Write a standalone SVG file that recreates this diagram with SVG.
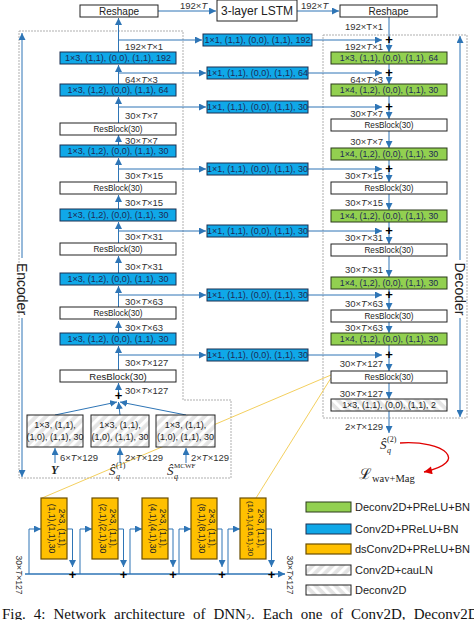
<svg xmlns="http://www.w3.org/2000/svg" width="474" height="620" viewBox="0 0 474 620">
<defs>
<style>
.bl{fill:#10A8E8;stroke:#1a2e50;stroke-width:1}
.gr{fill:#92D050;stroke:#2b3a1a;stroke-width:1}
.rb{fill:#fff;stroke:#222;stroke-width:1}
.or{fill:#FFC000;stroke:#6b4e00;stroke-width:1.2}
.hA{fill:url(#hatA);stroke:#222;stroke-width:1}
.hB{fill:url(#hatB);stroke:#222;stroke-width:1}
.t{font-family:"Liberation Sans",Arial,sans-serif;font-size:9px;fill:#1d2b55;text-anchor:middle}
.tk{font-family:"Liberation Sans",Arial,sans-serif;font-size:8.2px;fill:#222;text-anchor:middle}
.lab{font-family:"Liberation Sans",Arial,sans-serif;font-size:9.5px;fill:#333}
.end{text-anchor:end}
.it{font-style:italic}
.cn{stroke:#2E75B6;stroke-width:1;fill:none}
.cnA{stroke:#2E75B6;stroke-width:1;fill:none;marker-end:url(#ah)}
.plus{font-family:"Liberation Sans",Arial,sans-serif;font-size:13px;font-weight:bold;fill:#000;text-anchor:middle}
.frame{fill:none;stroke:#a6a6a6;stroke-width:0.9;stroke-dasharray:2 1}
.yl{stroke:#F2C94C;stroke-width:0.9;fill:none}
.leg{font-family:"Liberation Sans",Arial,sans-serif;font-size:11px;fill:#222}
.ds{font-family:"Liberation Sans",Arial,sans-serif;font-size:8.6px;fill:#222;text-anchor:middle}
.sym{font-family:"Liberation Serif","Times New Roman",serif;fill:#222}
</style>
<marker id="ah" viewBox="0 0 10 10" refX="10" refY="5" markerWidth="7" markerHeight="7" markerUnits="userSpaceOnUse" orient="auto"><path d="M0,0 L10,5 L0,10 z" fill="#2E75B6"/></marker>
<marker id="ahr" viewBox="0 0 10 10" refX="10" refY="5" markerWidth="9" markerHeight="8" markerUnits="userSpaceOnUse" orient="auto"><path d="M0,0 L10,5 L0,10 z" fill="#e00000"/></marker>
<pattern id="hatA" patternUnits="userSpaceOnUse" width="7" height="7" patternTransform="rotate(45)"><rect width="7" height="7" fill="#e4e4e4"/><rect width="3.2" height="7" fill="#fff"/></pattern>
<pattern id="hatB" patternUnits="userSpaceOnUse" width="7" height="7" patternTransform="rotate(-45)"><rect width="7" height="7" fill="#e4e4e4"/><rect width="3.2" height="7" fill="#fff"/></pattern>
</defs>
<rect width="474" height="620" fill="#fff"/>

<g id="frames">
<path class="frame" d="M19,31 H183 V400 H231 V478 H19 Z"/>
<path class="frame" d="M323,35 H467 V418 H323 Z"/>
</g>

<g id="connectors">
<line class="cnA" x1="158" y1="11" x2="216" y2="11"/>
<line class="cnA" x1="297" y1="11" x2="339" y2="11"/>
<line class="cnA" x1="118.5" y1="52" x2="118.5" y2="18"/>
<line class="cnA" x1="118.5" y1="84" x2="118.5" y2="65"/>
<line class="cnA" x1="118.5" y1="123" x2="118.5" y2="97"/>
<line class="cnA" x1="118.5" y1="145" x2="118.5" y2="135"/>
<line class="cnA" x1="118.5" y1="182" x2="118.5" y2="158"/>
<line class="cnA" x1="118.5" y1="209" x2="118.5" y2="195"/>
<line class="cnA" x1="118.5" y1="243" x2="118.5" y2="222"/>
<line class="cnA" x1="118.5" y1="273" x2="118.5" y2="256"/>
<line class="cnA" x1="118.5" y1="307" x2="118.5" y2="286"/>
<line class="cnA" x1="118.5" y1="333" x2="118.5" y2="321"/>
<line class="cnA" x1="118.5" y1="370" x2="118.5" y2="346"/>
<line class="cnA" x1="118.5" y1="393" x2="118.5" y2="383"/>
<line class="cnA" x1="55" y1="415" x2="117" y2="402"/>
<line class="cnA" x1="120" y1="415" x2="118.5" y2="402"/>
<line class="cnA" x1="186" y1="415" x2="120" y2="402"/>
<line class="cnA" x1="55" y1="463" x2="55" y2="448"/>
<line class="cnA" x1="120" y1="463" x2="120" y2="448"/>
<line class="cnA" x1="186" y1="463" x2="186" y2="448"/>
<line class="cnA" x1="118.5" y1="40" x2="202" y2="40"/>
<line class="cnA" x1="118.5" y1="73" x2="206" y2="73"/>
<line class="cnA" x1="118.5" y1="107" x2="206" y2="107"/>
<line class="cnA" x1="118.5" y1="169" x2="206" y2="169"/>
<line class="cnA" x1="118.5" y1="231" x2="206" y2="231"/>
<line class="cnA" x1="118.5" y1="295" x2="206" y2="295"/>
<line class="cnA" x1="118.5" y1="355" x2="206" y2="355"/>
<line class="cnA" x1="312" y1="40" x2="382" y2="40"/>
<line class="cnA" x1="308" y1="73" x2="382" y2="73"/>
<line class="cnA" x1="308" y1="107" x2="382" y2="107"/>
<line class="cnA" x1="308" y1="169" x2="382" y2="169"/>
<line class="cnA" x1="308" y1="231" x2="382" y2="231"/>
<line class="cnA" x1="308" y1="295" x2="382" y2="295"/>
<line class="cnA" x1="308" y1="355" x2="382" y2="355"/>
<line class="cnA" x1="389" y1="17" x2="389" y2="52"/>
<line class="cnA" x1="389" y1="64" x2="389" y2="84"/>
<line class="cnA" x1="389" y1="96" x2="389" y2="119"/>
<line class="cnA" x1="389" y1="131" x2="389" y2="148"/>
<line class="cnA" x1="389" y1="160" x2="389" y2="182"/>
<line class="cnA" x1="389" y1="194" x2="389" y2="210"/>
<line class="cnA" x1="389" y1="222" x2="389" y2="244"/>
<line class="cnA" x1="389" y1="256" x2="389" y2="277"/>
<line class="cnA" x1="389" y1="289" x2="389" y2="310"/>
<line class="cnA" x1="389" y1="322" x2="389" y2="333"/>
<line class="cnA" x1="389" y1="345" x2="389" y2="371"/>
<line class="cnA" x1="389" y1="383" x2="389" y2="399"/>
<line class="cnA" x1="389" y1="411" x2="389" y2="433"/>
<line class="cnA" x1="22" y1="258" x2="22" y2="33"/>
<line class="cnA" x1="22" y1="318" x2="22" y2="477"/>
<line class="cnA" x1="460" y1="260" x2="460" y2="36"/>
<line class="cnA" x1="460" y1="318" x2="460" y2="417"/>
<path d="M400,443 C445,440 470,462 424,472" fill="none" stroke="#e00000" stroke-width="1.3" marker-end="url(#ahr)"/>
<line class="yl" x1="331" y1="375" x2="42" y2="498"/>
<line class="yl" x1="331" y1="378" x2="256" y2="498"/>
<line x1="25" y1="574" x2="285" y2="574" stroke="#2E75B6" stroke-width="1.6" marker-end="url(#ah)"/>
<path class="cnA" d="M29,574 V529 H41"/>
<path class="cnA" d="M80,574 V529 H92"/>
<path class="cnA" d="M130,574 V529 H142"/>
<path class="cnA" d="M179,574 V529 H191"/>
<path class="cnA" d="M228,574 V529 H240"/>
<path class="cnA" d="M67,529 H72.5 V567"/>
<path class="cnA" d="M118,529 H123.5 V567"/>
<path class="cnA" d="M168,529 H173 V567"/>
<path class="cnA" d="M217,529 H222 V567"/>
<path class="cnA" d="M266,529 H271.5 V567"/>
</g>

<g id="reshape_in"><rect class="rb" x="80" y="5" width="78" height="12"/><text class="tk" x="119" y="14.5" style="font-size:10px">Reshape</text></g>
<g id="lstm"><rect class="rb" x="217" y="0" width="80" height="21"/><text class="tk" x="257" y="15" style="font-size:12px">3-layer LSTM</text></g>
<g id="reshape_out"><rect class="rb" x="340" y="5" width="97" height="12"/><text class="tk" x="388.5" y="14.5" style="font-size:10px">Reshape</text></g>
<g id="top_labels">
<text class="lab" x="180" y="9">192×<tspan class="it">T</tspan></text>
<text class="lab" x="301" y="9">192×<tspan class="it">T</tspan></text>
</g>

<g id="enc1"><rect class="bl" x="60" y="52" width="116" height="12"/><text class="t" x="118" y="61.2">1×3, (1,1), (0,0), (1,1), 192</text></g>
<g id="enc2"><rect class="bl" x="60" y="84" width="116" height="12"/><text class="t" x="118" y="93.2">1×3, (1,2), (0,0), (1,1), 64</text></g>
<g id="enc3"><rect class="rb" x="60" y="123" width="116" height="12"/><text class="tk" x="118" y="132">ResBlock(30)</text></g>
<g id="enc4"><rect class="bl" x="60" y="145" width="116" height="12"/><text class="t" x="118" y="154.2">1×3, (1,2), (0,0), (1,1), 30</text></g>
<g id="enc5"><rect class="rb" x="60" y="182" width="116" height="12"/><text class="tk" x="118" y="191">ResBlock(30)</text></g>
<g id="enc6"><rect class="bl" x="60" y="209" width="116" height="12"/><text class="t" x="118" y="218.2">1×3, (1,2), (0,0), (1,1), 30</text></g>
<g id="enc7"><rect class="rb" x="60" y="243" width="116" height="12"/><text class="tk" x="118" y="252">ResBlock(30)</text></g>
<g id="enc8"><rect class="bl" x="60" y="273" width="116" height="12"/><text class="t" x="118" y="282.2">1×3, (1,2), (0,0), (1,1), 30</text></g>
<g id="enc9"><rect class="rb" x="60" y="307" width="116" height="12"/><text class="tk" x="118" y="316">ResBlock(30)</text></g>
<g id="enc10"><rect class="bl" x="60" y="333" width="116" height="12"/><text class="t" x="118" y="342.2">1×3, (1,2), (0,0), (1,1), 30</text></g>
<g id="enc11"><rect class="rb" x="60" y="370" width="116" height="12"/><text class="tk" x="118" y="379.6" style="font-size:9.6px">ResBlock(30)</text></g>
<g id="enc_sum"><text class="plus" x="118.5" y="400">+</text></g>
<g id="in1"><rect class="hA" x="27" y="415" width="56" height="32"/><text class="t" x="55" y="428" style="fill:#222">1×3, (1,1),</text><text class="t" x="55" y="440" style="fill:#222">(1,0), (1,1), 30</text></g>
<g id="in2"><rect class="hA" x="91" y="415" width="58" height="32"/><text class="t" x="120" y="428" style="fill:#222">1×3, (1,1),</text><text class="t" x="120" y="440" style="fill:#222">(1,0), (1,1), 30</text></g>
<g id="in3"><rect class="hA" x="156" y="415" width="59" height="32"/><text class="t" x="185.5" y="428" style="fill:#222">1×3, (1,1),</text><text class="t" x="185.5" y="440" style="fill:#222">(1,0), (1,1), 30</text></g>
<g id="enc_labels">
<text class="lab" x="125" y="50.3">192×<tspan class="it">T</tspan>×1</text>
<text class="lab" x="125" y="83.3">64×<tspan class="it">T</tspan>×3</text>
<text class="lab" x="125" y="119.3">30×<tspan class="it">T</tspan>×7</text>
<text class="lab" x="125" y="144.3">30×<tspan class="it">T</tspan>×7</text>
<text class="lab" x="125" y="179.3">30×<tspan class="it">T</tspan>×15</text>
<text class="lab" x="125" y="206.3">30×<tspan class="it">T</tspan>×15</text>
<text class="lab" x="125" y="240.3">30×<tspan class="it">T</tspan>×31</text>
<text class="lab" x="125" y="270.3">30×<tspan class="it">T</tspan>×31</text>
<text class="lab" x="125" y="305.3">30×<tspan class="it">T</tspan>×63</text>
<text class="lab" x="125" y="331.3">30×<tspan class="it">T</tspan>×63</text>
<text class="lab" x="125" y="366.3">30×<tspan class="it">T</tspan>×127</text>
<text class="lab" x="125" y="394.3">30×<tspan class="it">T</tspan>×127</text>
<text class="lab" x="60" y="461">6×<tspan class="it">T</tspan>×129</text>
<text class="lab" x="125" y="461">2×<tspan class="it">T</tspan>×129</text>
<text class="lab" x="191" y="461">2×<tspan class="it">T</tspan>×129</text>
</g>
<g id="inputs">
<text class="sym" x="51" y="474" style="font-size:12px;font-weight:bold;font-style:italic">Y</text>
<text class="sym" x="109" y="475" style="font-size:13px;font-style:italic">Ŝ</text>
<text class="sym" x="116" y="468" style="font-size:8px">(1)</text>
<text class="sym" x="116" y="479" style="font-size:8px;font-style:italic">q</text>
<text class="sym" x="167" y="475" style="font-size:13px;font-style:italic">Ŝ</text>
<text class="sym" x="174" y="468" style="font-size:7px">MCWF</text>
<text class="sym" x="174" y="479" style="font-size:8px;font-style:italic">q</text>
</g>
<g id="encoder_title"><text transform="translate(17,289) rotate(90)" style="font-family:'Liberation Sans',Arial,sans-serif;font-size:14px;fill:#222;text-anchor:middle">Encoder</text></g>

<g id="skip1"><rect class="bl" x="203" y="34" width="109" height="12"/><text class="t" x="257.5" y="43.2">1×1, (1,1), (0,0), (1,1), 192</text></g>
<g id="skip2"><rect class="bl" x="207" y="67" width="101" height="12"/><text class="t" x="257.5" y="76.2">1×1, (1,1), (0,0), (1,1), 64</text></g>
<g id="skip3"><rect class="bl" x="207" y="101" width="101" height="12"/><text class="t" x="257.5" y="110.2">1×1, (1,1), (0,0), (1,1), 30</text></g>
<g id="skip4"><rect class="bl" x="207" y="163" width="101" height="12"/><text class="t" x="257.5" y="172.2">1×1, (1,1), (0,0), (1,1), 30</text></g>
<g id="skip5"><rect class="bl" x="207" y="225" width="101" height="12"/><text class="t" x="257.5" y="234.2">1×1, (1,1), (0,0), (1,1), 30</text></g>
<g id="skip6"><rect class="bl" x="207" y="289" width="101" height="12"/><text class="t" x="257.5" y="298.2">1×1, (1,1), (0,0), (1,1), 30</text></g>
<g id="skip7"><rect class="bl" x="207" y="349" width="101" height="12"/><text class="t" x="257.5" y="358.2">1×1, (1,1), (0,0), (1,1), 30</text></g>

<g id="dec_sums">
<text class="plus" x="389" y="44">+</text>
<text class="plus" x="389" y="77">+</text>
<text class="plus" x="389" y="111">+</text>
<text class="plus" x="389" y="173">+</text>
<text class="plus" x="389" y="235">+</text>
<text class="plus" x="389" y="299">+</text>
<text class="plus" x="389" y="359">+</text>
</g>
<g id="dec1"><rect class="gr" x="331" y="52" width="116" height="12"/><text class="t" x="389" y="61.2" style="font-size:8.8px">1×3, (1,1), (0,0), (1,1), 64</text></g>
<g id="dec2"><rect class="gr" x="331" y="84" width="116" height="12"/><text class="t" x="389" y="93.2" style="font-size:8.8px">1×4, (1,2), (0,0), (1,1), 30</text></g>
<g id="dec3"><rect class="rb" x="331" y="119" width="116" height="12"/><text class="tk" x="389" y="128">ResBlock(30)</text></g>
<g id="dec4"><rect class="gr" x="331" y="148" width="116" height="12"/><text class="t" x="389" y="157.2" style="font-size:8.8px">1×4, (1,2), (0,0), (1,1), 30</text></g>
<g id="dec5"><rect class="rb" x="331" y="182" width="116" height="12"/><text class="tk" x="389" y="191">ResBlock(30)</text></g>
<g id="dec6"><rect class="gr" x="331" y="210" width="116" height="12"/><text class="t" x="389" y="219.2" style="font-size:8.8px">1×4, (1,2), (0,0), (1,1), 30</text></g>
<g id="dec7"><rect class="rb" x="331" y="244" width="116" height="12"/><text class="tk" x="389" y="253">ResBlock(30)</text></g>
<g id="dec8"><rect class="gr" x="331" y="277" width="116" height="12"/><text class="t" x="389" y="286.2" style="font-size:8.8px">1×4, (1,2), (0,0), (1,1), 30</text></g>
<g id="dec9"><rect class="rb" x="331" y="310" width="116" height="12"/><text class="tk" x="389" y="319">ResBlock(30)</text></g>
<g id="dec10"><rect class="gr" x="331" y="333" width="116" height="12"/><text class="t" x="389" y="342.2" style="font-size:8.8px">1×4, (1,2), (0,0), (1,1), 30</text></g>
<g id="dec11"><rect class="rb" x="331" y="371" width="116" height="12"/><text class="tk" x="389" y="380">ResBlock(30)</text></g>
<g id="dec12"><rect class="hB" x="331" y="399" width="116" height="12"/><text class="t" x="389" y="408.2" style="font-size:8.8px;fill:#222">1×3, (1,1), (0,0), (1,1), 2</text></g>
<g id="dec_labels">
<text class="lab end" x="383" y="30">192×T×1</text>
<text class="lab end" x="383" y="50">192×<tspan class="it">T</tspan>×1</text>
<text class="lab end" x="383" y="83">64×<tspan class="it">T</tspan>×3</text>
<text class="lab end" x="383" y="117">30×<tspan class="it">T</tspan>×7</text>
<text class="lab end" x="383" y="145">30×<tspan class="it">T</tspan>×7</text>
<text class="lab end" x="383" y="179">30×<tspan class="it">T</tspan>×15</text>
<text class="lab end" x="383" y="206">30×<tspan class="it">T</tspan>×15</text>
<text class="lab end" x="383" y="241">30×<tspan class="it">T</tspan>×31</text>
<text class="lab end" x="383" y="273">30×<tspan class="it">T</tspan>×31</text>
<text class="lab end" x="383" y="307">30×<tspan class="it">T</tspan>×63</text>
<text class="lab end" x="383" y="331">30×<tspan class="it">T</tspan>×63</text>
<text class="lab end" x="383" y="367">30×<tspan class="it">T</tspan>×127</text>
<text class="lab end" x="383" y="397">30×<tspan class="it">T</tspan>×127</text>
<text class="lab end" x="383" y="430">2×<tspan class="it">T</tspan>×129</text>
</g>
<g id="decoder_title"><text transform="translate(455,289) rotate(90)" style="font-family:'Liberation Sans',Arial,sans-serif;font-size:14px;fill:#222;text-anchor:middle">Decoder</text></g>
<g id="output">
<text class="sym" x="380" y="449" style="font-size:13px;font-style:italic">Ŝ</text>
<text class="sym" x="387" y="442" style="font-size:8px">(2)</text>
<text class="sym" x="387" y="453" style="font-size:8px;font-style:italic">q</text>
</g>
<g id="loss">
<text x="359" y="479" style="font-family:'DejaVu Serif',serif;font-size:15px;fill:#222">ℒ</text>
<text class="sym" x="372" y="482" style="font-size:10.5px">wav+Mag</text>
</g>

<g id="ds1"><rect class="or" x="41" y="498" width="26" height="61"/><text class="ds" transform="translate(59,528.5) rotate(90)">2×3, (1,1),</text><text class="ds" transform="translate(49,528.5) rotate(90)">(1,1),(1,1),30</text></g>
<g id="ds2"><rect class="or" x="92" y="498" width="26" height="61"/><text class="ds" transform="translate(110,528.5) rotate(90)">2×3, (1,1),</text><text class="ds" transform="translate(100,528.5) rotate(90)">(2,1),(2,1),30</text></g>
<g id="ds3"><rect class="or" x="142" y="498" width="26" height="61"/><text class="ds" transform="translate(160,528.5) rotate(90)">2×3, (1,1),</text><text class="ds" transform="translate(150,528.5) rotate(90)">(4,1),(4,1),30</text></g>
<g id="ds4"><rect class="or" x="191" y="498" width="26" height="61"/><text class="ds" transform="translate(209,528.5) rotate(90)">2×3, (1,1),</text><text class="ds" transform="translate(199,528.5) rotate(90)">(8,1),(8,1),30</text></g>
<g id="ds5"><rect class="or" x="240" y="498" width="26" height="61"/><text class="ds" transform="translate(258,528.5) rotate(90)">2×3, (1,1),</text><text class="ds" transform="translate(248,528.5) rotate(90)" style="font-size:8px">(16,1),(16,1),30</text></g>
<g id="ds_sums">
<text class="plus" x="72.5" y="578.5">+</text>
<text class="plus" x="123.5" y="578.5">+</text>
<text class="plus" x="173" y="578.5">+</text>
<text class="plus" x="222" y="578.5">+</text>
<text class="plus" x="271.5" y="578.5">+</text>
</g>
<g id="ds_labels">
<text class="lab" transform="translate(15.5,575) rotate(90)" style="font-size:8.5px;text-anchor:middle">30×<tspan class="it">T</tspan>×127</text>
<text class="lab" transform="translate(287,575) rotate(90)" style="font-size:8.5px;text-anchor:middle">30×<tspan class="it">T</tspan>×127</text>
</g>

<g id="legend">
<rect class="gr" x="306" y="502" width="45" height="10"/><text class="leg" x="355" y="511">Deconv2D+PReLU+BN</text>
<rect class="bl" x="306" y="524" width="45" height="10"/><text class="leg" x="355" y="533">Conv2D+PReLU+BN</text>
<rect class="or" x="306" y="544" width="45" height="10"/><text class="leg" x="355" y="553">dsConv2D+PReLU+BN</text>
<rect class="hA" x="306" y="565" width="45" height="10"/><text class="leg" x="355" y="574">Conv2D+cauLN</text>
<rect class="hB" x="306" y="585" width="45" height="10"/><text class="leg" x="355" y="594">Deconv2D</text>
</g>

<g id="caption"><text x="2" y="619" style="font-family:'Liberation Serif','Times New Roman',serif;font-size:15px;fill:#111;word-spacing:4.3px">Fig. 4: Network architecture of DNN<tspan font-size="10" dy="2">2</tspan><tspan dy="-2">. Each one of Conv2D, Deconv2D</tspan></text></g>
</svg>
